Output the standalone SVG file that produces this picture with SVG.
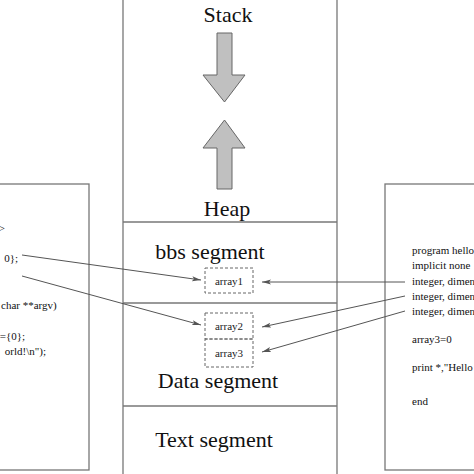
<svg xmlns="http://www.w3.org/2000/svg" width="474" height="474" viewBox="0 0 474 474">
<defs>
<marker id="ah" markerWidth="10" markerHeight="6" refX="9" refY="3" orient="auto" markerUnits="userSpaceOnUse">
<path d="M0,0.5 L9,3 L0,5.5 L2,3 Z" fill="#555"/>
</marker>
<style>
.frame{fill:none;stroke:#777;stroke-width:1.3}
.big{font-family:"Liberation Serif",serif;font-size:22px;fill:#111;text-anchor:middle}
.code{font-family:"Liberation Serif",serif;font-size:11px;fill:#111}
.arr{font-family:"Liberation Serif",serif;font-size:11px;fill:#222;text-anchor:middle}
.dash{fill:none;stroke:#666;stroke-width:1;stroke-dasharray:3,2}
.conn{fill:none;stroke:#555;stroke-width:1;marker-end:url(#ah)}
.grow{fill:#c0c0c0;stroke:#666;stroke-width:1}
</style>
</defs>
<rect width="474" height="474" fill="#fff"/>

<g id="memory">
<line class="frame" x1="123" y1="0" x2="123" y2="474"/>
<line class="frame" x1="337" y1="0" x2="337" y2="474"/>
<line class="frame" x1="123" y1="222" x2="337" y2="222"/>
<line class="frame" x1="123" y1="303" x2="337" y2="303"/>
<line class="frame" x1="123" y1="406" x2="337" y2="406"/>
</g>

<g id="stack">
<text class="big" x="228" y="22">Stack</text>
<path class="grow" d="M217,33 H232 V75 H245 L224.5,102 L203,75 H217 Z"/>
</g>
<g id="heap">
<path class="grow" d="M224.5,120 L245,148 H232 V189 H217 V148 H203 Z"/>
<text class="big" x="227" y="216">Heap</text>
</g>
<g id="bbs">
<text class="big" x="210" y="259">bbs segment</text>
</g>
<g id="array1">
<rect class="dash" x="205" y="268" width="48" height="25"/>
<text class="arr" x="229" y="285">array1</text>
</g>
<g id="array2">
<rect class="dash" x="205" y="313" width="48" height="26"/>
<text class="arr" x="229" y="330">array2</text>
</g>
<g id="array3">
<rect class="dash" x="205" y="339" width="48" height="28"/>
<text class="arr" x="229" y="357">array3</text>
</g>
<g id="data">
<text class="big" x="218" y="388">Data segment</text>
</g>
<g id="text">
<text class="big" x="214" y="447">Text segment</text>
</g>

<g id="c-code">
<rect class="frame" x="-10" y="184" width="99" height="286"/>
<text class="code" x="5" y="232" text-anchor="end">&gt;</text>
<text class="code" x="18" y="262" text-anchor="end">0};</text>
<text class="code" x="1" y="309">char **argv)</text>
<text class="code" x="25" y="340" text-anchor="end">={0};</text>
<text class="code" x="46" y="355" text-anchor="end">orld!\n");</text>
</g>

<g id="fortran-code">
<rect class="frame" x="385" y="184" width="99" height="286"/>
<text class="code" x="412" y="254">program hello</text>
<text class="code" x="412" y="269">implicit none</text>
<text class="code" x="412" y="285">integer, dimen</text>
<text class="code" x="412" y="300">integer, dimen</text>
<text class="code" x="412" y="315">integer, dimen</text>
<text class="code" x="412" y="343">array3=0</text>
<text class="code" x="412" y="371">print *,"Hello</text>
<text class="code" x="412" y="405">end</text>
</g>

<g id="connectors">
<line class="conn" x1="22" y1="255" x2="201" y2="280"/>
<line class="conn" x1="22" y1="276" x2="201" y2="325"/>
<line class="conn" x1="405" y1="282" x2="262" y2="282"/>
<line class="conn" x1="405" y1="296" x2="262" y2="327"/>
<line class="conn" x1="405" y1="311" x2="262" y2="352"/>
</g>
</svg>
